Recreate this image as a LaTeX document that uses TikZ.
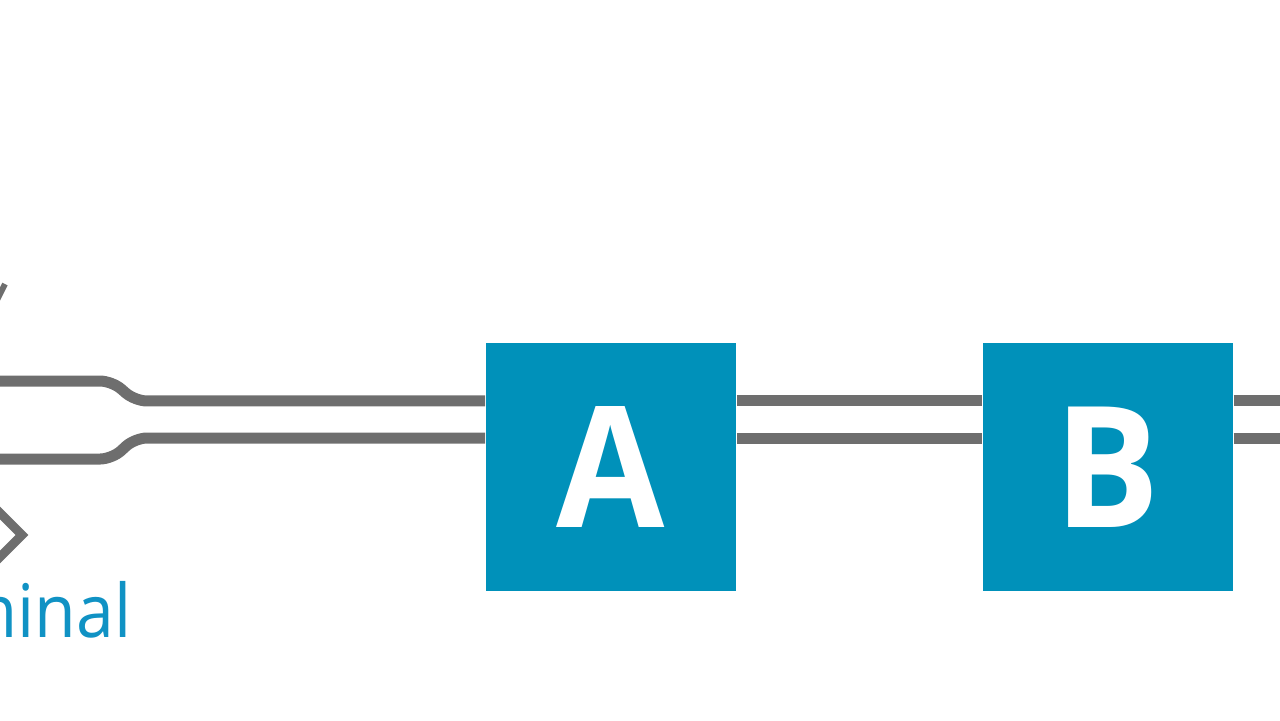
\documentclass[tikz,border=0pt]{standalone}
\usepackage{fontspec}
\setmainfont{Open Sans}
\usetikzlibrary{calc}
\usetikzlibrary{positioning}
\definecolor{box-blue}{RGB}{0, 145, 186}
\definecolor{wire-gray}{RGB}{110, 110, 110}
\definecolor{label-blue}{RGB}{16, 146, 196}

\begin{document}
\begin{tikzpicture}[x=0.01cm, y=-0.01cm,
        wire/.style={draw=wire-gray, line width=0.11cm, rounded corners=0.12cm},
        letterbox/.style={fill=box-blue, text=white, minimum width=2.5cm, minimum height=2.47cm, inner sep=0pt, font=\fontsize{48}{48}\selectfont\bfseries}]
                \useasboundingbox (0, 0) rectangle (1280, 720);
                \clip (0, 0) rectangle (1280, 720);
                \node[letterbox] (A) at (611, 467) {\scalebox{0.93}[1]{A}};
                \node[letterbox, right=2.45cm of A] (B) {\scalebox{0.93}[1]{B}};
                \coordinate (plug-top) at (-20, 381);
                \coordinate (plug-bottom) at (-20, 459);
                \coordinate (end-top) at ([xshift=1cm, yshift=0.66cm]B.east);
                \coordinate (end-bottom) at ([xshift=1cm, yshift=0.29cm]B.east);
                \draw[wire] (plug-top) -- (112, 381) -- ([xshift=-3.5cm, yshift=0.66cm]A.west) -- ([yshift=0.66cm]A.west);
                \draw[wire] (plug-bottom) -- (112, 459) -- ([xshift=-3.5cm, yshift=0.29cm]A.west) -- ([yshift=0.29cm]A.west);
                \draw[wire] ([yshift=0.66cm]A.east) -- ([yshift=0.66cm]B.west);
                \draw[wire] ([yshift=0.29cm]A.east) -- ([yshift=0.29cm]B.west);
                \draw[wire] ([yshift=0.66cm]B.east) -- (end-top);
                \draw[wire] ([yshift=0.29cm]B.east) -- (end-bottom);
                \draw[wire-gray, line width=0.09cm, miter limit=4] (-10, 503) -- (22, 535) -- (-10, 567);
                \draw[wire-gray, line width=0.06cm] (-4, 302) -- (5, 284);
                \node[anchor=base east, text=label-blue, font=\fontsize{21}{21}\selectfont, xscale=0.92, transform shape] (label) at (143, 637) {minal};
            \end{tikzpicture}
\end{document}
